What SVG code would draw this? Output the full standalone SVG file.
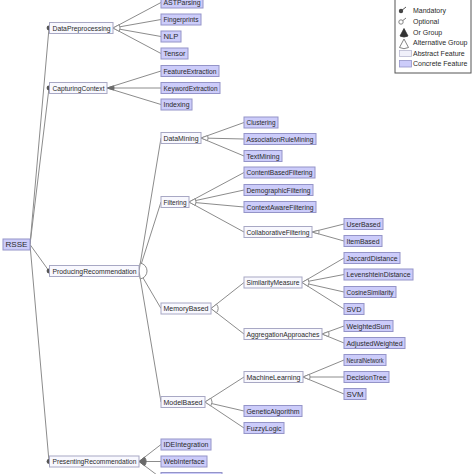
<svg xmlns="http://www.w3.org/2000/svg" width="474" height="474" viewBox="0 0 474 474">
<style>
text{font-family:"Liberation Sans",Arial,sans-serif;font-size:7px;fill:#2a2a2a}
.a{fill:#f8f8fe;stroke:#a8a8c4;stroke-width:1}
.c{fill:#ccccfa;stroke:#9494c8;stroke-width:1}
.ln{stroke:#8c8c8c;stroke-width:1;fill:none}
.alt{fill:#ffffff;stroke:#8c8c8c;stroke-width:1}
.or{fill:#6a6a6a;stroke:#6a6a6a;stroke-width:1}
.dot{fill:#555555}
</style>
<rect width="474" height="474" fill="#ffffff"/>
<g id="connectors">
<line class="ln" x1="30" y1="244.5" x2="49" y2="28"/>
<line class="ln" x1="30" y1="244.5" x2="49" y2="88"/>
<line class="ln" x1="30" y1="244.5" x2="49" y2="271"/>
<line class="ln" x1="30" y1="244.5" x2="49" y2="461.5"/>
<circle class="dot" cx="49" cy="28" r="2.4"/>
<circle class="dot" cx="49" cy="88" r="2.4"/>
<circle class="dot" cx="49" cy="271" r="2.4"/>
<circle class="dot" cx="49" cy="461.5" r="2.4"/>
<line class="ln" x1="113" y1="28" x2="161" y2="2.5"/>
<line class="ln" x1="113" y1="28" x2="161" y2="19.5"/>
<line class="ln" x1="113" y1="28" x2="161" y2="36.5"/>
<line class="ln" x1="113" y1="28" x2="161" y2="53.5"/>
<path class="alt" d="M113,28 L119.2,24.7 A7,7 0 0 1 119.2,31.3 Z"/>
<line class="ln" x1="107" y1="88" x2="161" y2="71"/>
<line class="ln" x1="107" y1="88" x2="161" y2="88"/>
<line class="ln" x1="107" y1="88" x2="161" y2="104.5"/>
<path class="or" d="M107,88 L113.7,85.9 A7,7 0 0 1 113.7,90 Z"/>
<line class="ln" x1="139" y1="271" x2="161" y2="138"/>
<line class="ln" x1="139" y1="271" x2="161" y2="202"/>
<line class="ln" x1="139" y1="271" x2="161" y2="308.5"/>
<line class="ln" x1="139" y1="271" x2="161" y2="402"/>
<path class="alt" d="M139,271 L140.3,263.1 A8,8 0 0 1 140.3,278.9 Z"/>
<line class="ln" x1="201" y1="138" x2="244" y2="122.5"/>
<line class="ln" x1="201" y1="138" x2="244" y2="139"/>
<line class="ln" x1="201" y1="138" x2="244" y2="156"/>
<path class="alt" d="M201,138 L207.6,135.6 A7,7 0 0 1 207.5,140.7 Z"/>
<line class="ln" x1="189" y1="202" x2="244" y2="172.5"/>
<line class="ln" x1="189" y1="202" x2="244" y2="190"/>
<line class="ln" x1="189" y1="202" x2="244" y2="207"/>
<line class="ln" x1="189" y1="202" x2="244" y2="232"/>
<path class="alt" d="M189,202 L195.2,198.7 A7,7 0 0 1 195.1,205.4 Z"/>
<line class="ln" x1="312" y1="232" x2="344" y2="224"/>
<line class="ln" x1="312" y1="232" x2="344" y2="241"/>
<path class="alt" d="M312,232 L318.8,230.3 A7,7 0 0 1 318.7,233.9 Z"/>
<line class="ln" x1="211" y1="308.5" x2="244" y2="282.5"/>
<line class="ln" x1="211" y1="308.5" x2="244" y2="334"/>
<path class="alt" d="M211,308.5 L216.5,304.2 A7,7 0 0 1 216.5,312.8 Z"/>
<line class="ln" x1="302" y1="282.5" x2="344" y2="258"/>
<line class="ln" x1="302" y1="282.5" x2="344" y2="274.5"/>
<line class="ln" x1="302" y1="282.5" x2="344" y2="292"/>
<line class="ln" x1="302" y1="282.5" x2="344" y2="309"/>
<path class="alt" d="M302,282.5 L308,279 A7,7 0 0 1 307.9,286.2 Z"/>
<line class="ln" x1="322" y1="334" x2="344" y2="326"/>
<line class="ln" x1="322" y1="334" x2="344" y2="343"/>
<path class="alt" d="M322,334 L328.6,331.6 A7,7 0 0 1 328.5,336.6 Z"/>
<line class="ln" x1="205" y1="402" x2="244" y2="377"/>
<line class="ln" x1="205" y1="402" x2="244" y2="411"/>
<line class="ln" x1="205" y1="402" x2="244" y2="428"/>
<path class="alt" d="M205,402 L210.9,398.2 A7,7 0 0 1 210.8,405.9 Z"/>
<line class="ln" x1="303" y1="377" x2="344" y2="360"/>
<line class="ln" x1="303" y1="377" x2="344" y2="377"/>
<line class="ln" x1="303" y1="377" x2="344" y2="394"/>
<path class="alt" d="M303,377 L309.5,374.3 A7,7 0 0 1 309.5,379.7 Z"/>
<line class="ln" x1="139" y1="461.5" x2="161" y2="444.5"/>
<line class="ln" x1="139" y1="461.5" x2="161" y2="461.5"/>
<line class="ln" x1="139" y1="461.5" x2="161" y2="478"/>
<path class="or" d="M139,461.5 L144.5,457.2 A7,7 0 0 1 144.6,465.7 Z"/>
</g>
<g id="RSSE"><rect class="c" x="3" y="239" width="27" height="11"/><text x="5.5" y="247" textLength="22" lengthAdjust="spacingAndGlyphs">RSSE</text></g>
<g id="DataPreprocessing"><rect class="a" x="49.5" y="22.5" width="63.5" height="11"/><text x="52.5" y="30.5" textLength="58" lengthAdjust="spacingAndGlyphs">DataPreprocessing</text></g>
<g id="ASTParsing"><rect class="c" x="161" y="-3" width="42" height="11"/><text x="163.5" y="5" textLength="37" lengthAdjust="spacingAndGlyphs">ASTParsing</text></g>
<g id="Fingerprints"><rect class="c" x="161" y="14" width="40" height="11"/><text x="163.5" y="22" textLength="35" lengthAdjust="spacingAndGlyphs">Fingerprints</text></g>
<g id="NLP"><rect class="c" x="161" y="31" width="20" height="11"/><text x="163.5" y="39" textLength="15" lengthAdjust="spacingAndGlyphs">NLP</text></g>
<g id="Tensor"><rect class="c" x="161" y="48" width="27" height="11"/><text x="163.5" y="56" textLength="22" lengthAdjust="spacingAndGlyphs">Tensor</text></g>
<g id="CapturingContext"><rect class="a" x="49.5" y="82.5" width="57.5" height="11"/><text x="52.5" y="90.5" textLength="52" lengthAdjust="spacingAndGlyphs">CapturingContext</text></g>
<g id="FeatureExtraction"><rect class="c" x="161" y="65.5" width="58" height="11"/><text x="163.5" y="73.5" textLength="53" lengthAdjust="spacingAndGlyphs">FeatureExtraction</text></g>
<g id="KeywordExtraction"><rect class="c" x="161" y="82.5" width="59" height="11"/><text x="163.5" y="90.5" textLength="54" lengthAdjust="spacingAndGlyphs">KeywordExtraction</text></g>
<g id="Indexing"><rect class="c" x="161" y="99" width="31" height="11"/><text x="163.5" y="107" textLength="26" lengthAdjust="spacingAndGlyphs">Indexing</text></g>
<g id="ProducingRecommendation"><rect class="a" x="49.5" y="265.5" width="89.5" height="11"/><text x="52.5" y="273.5" textLength="84" lengthAdjust="spacingAndGlyphs">ProducingRecommendation</text></g>
<g id="DataMining"><rect class="a" x="161" y="132.5" width="40" height="11"/><text x="163.5" y="140.5" textLength="35" lengthAdjust="spacingAndGlyphs">DataMining</text></g>
<g id="Clustering"><rect class="c" x="244" y="117" width="34" height="11"/><text x="246.5" y="125" textLength="29" lengthAdjust="spacingAndGlyphs">Clustering</text></g>
<g id="AssociationRuleMining"><rect class="c" x="244" y="133.5" width="72" height="11"/><text x="246.5" y="141.5" textLength="67" lengthAdjust="spacingAndGlyphs">AssociationRuleMining</text></g>
<g id="TextMining"><rect class="c" x="244" y="150.5" width="38" height="11"/><text x="246.5" y="158.5" textLength="33" lengthAdjust="spacingAndGlyphs">TextMining</text></g>
<g id="Filtering"><rect class="a" x="161" y="196.5" width="28" height="11"/><text x="163.5" y="204.5" textLength="23" lengthAdjust="spacingAndGlyphs">Filtering</text></g>
<g id="ContentBasedFiltering"><rect class="c" x="244" y="167" width="71" height="11"/><text x="246.5" y="175" textLength="66" lengthAdjust="spacingAndGlyphs">ContentBasedFiltering</text></g>
<g id="DemographicFiltering"><rect class="c" x="244" y="184.5" width="69" height="11"/><text x="246.5" y="192.5" textLength="64" lengthAdjust="spacingAndGlyphs">DemographicFiltering</text></g>
<g id="ContextAwareFiltering"><rect class="c" x="244" y="201.5" width="72" height="11"/><text x="246.5" y="209.5" textLength="67" lengthAdjust="spacingAndGlyphs">ContextAwareFiltering</text></g>
<g id="CollaborativeFiltering"><rect class="a" x="244" y="226.5" width="68" height="11"/><text x="246.5" y="234.5" textLength="63" lengthAdjust="spacingAndGlyphs">CollaborativeFiltering</text></g>
<g id="UserBased"><rect class="c" x="344" y="218.5" width="39" height="11"/><text x="346.5" y="226.5" textLength="34" lengthAdjust="spacingAndGlyphs">UserBased</text></g>
<g id="ItemBased"><rect class="c" x="344" y="235.5" width="38" height="11"/><text x="346.5" y="243.5" textLength="33" lengthAdjust="spacingAndGlyphs">ItemBased</text></g>
<g id="MemoryBased"><rect class="a" x="161" y="303" width="50" height="11"/><text x="163.5" y="311" textLength="45" lengthAdjust="spacingAndGlyphs">MemoryBased</text></g>
<g id="SimilarityMeasure"><rect class="a" x="244" y="277" width="58" height="11"/><text x="246.5" y="285" textLength="53" lengthAdjust="spacingAndGlyphs">SimilarityMeasure</text></g>
<g id="JaccardDistance"><rect class="c" x="344" y="252.5" width="56" height="11"/><text x="346.5" y="260.5" textLength="51" lengthAdjust="spacingAndGlyphs">JaccardDistance</text></g>
<g id="LevenshteinDistance"><rect class="c" x="344" y="269" width="69" height="11"/><text x="346.5" y="277" textLength="64" lengthAdjust="spacingAndGlyphs">LevenshteinDistance</text></g>
<g id="CosineSimilarity"><rect class="c" x="344" y="286.5" width="52" height="11"/><text x="346.5" y="294.5" textLength="47" lengthAdjust="spacingAndGlyphs">CosineSimilarity</text></g>
<g id="SVD"><rect class="c" x="344" y="303.5" width="20" height="11"/><text x="346.5" y="311.5" textLength="15" lengthAdjust="spacingAndGlyphs">SVD</text></g>
<g id="AggregationApproaches"><rect class="a" x="244" y="328.5" width="78" height="11"/><text x="246.5" y="336.5" textLength="73" lengthAdjust="spacingAndGlyphs">AggregationApproaches</text></g>
<g id="WeightedSum"><rect class="c" x="344" y="320.5" width="49" height="11"/><text x="346.5" y="328.5" textLength="44" lengthAdjust="spacingAndGlyphs">WeightedSum</text></g>
<g id="AdjustedWeighted"><rect class="c" x="344" y="337.5" width="61" height="11"/><text x="346.5" y="345.5" textLength="56" lengthAdjust="spacingAndGlyphs">AdjustedWeighted</text></g>
<g id="ModelBased"><rect class="a" x="161" y="396.5" width="44" height="11"/><text x="163.5" y="404.5" textLength="39" lengthAdjust="spacingAndGlyphs">ModelBased</text></g>
<g id="MachineLearning"><rect class="a" x="244" y="371.5" width="59" height="11"/><text x="246.5" y="379.5" textLength="54" lengthAdjust="spacingAndGlyphs">MachineLearning</text></g>
<g id="NeuralNetwork"><rect class="c" x="344" y="354.5" width="42" height="11"/><text x="346.5" y="362.5" textLength="37" lengthAdjust="spacingAndGlyphs">NeuralNetwork</text></g>
<g id="DecisionTree"><rect class="c" x="344" y="371.5" width="45" height="11"/><text x="346.5" y="379.5" textLength="40" lengthAdjust="spacingAndGlyphs">DecisionTree</text></g>
<g id="SVM"><rect class="c" x="344" y="388.5" width="22" height="11"/><text x="346.5" y="396.5" textLength="17" lengthAdjust="spacingAndGlyphs">SVM</text></g>
<g id="GeneticAlgorithm"><rect class="c" x="244" y="405.5" width="58" height="11"/><text x="246.5" y="413.5" textLength="53" lengthAdjust="spacingAndGlyphs">GeneticAlgorithm</text></g>
<g id="FuzzyLogic"><rect class="c" x="244" y="422.5" width="40" height="11"/><text x="246.5" y="430.5" textLength="35" lengthAdjust="spacingAndGlyphs">FuzzyLogic</text></g>
<g id="PresentingRecommendation"><rect class="a" x="49.5" y="456" width="89.5" height="11"/><text x="52.5" y="464" textLength="84" lengthAdjust="spacingAndGlyphs">PresentingRecommendation</text></g>
<g id="IDEIntegration"><rect class="c" x="161" y="439" width="50" height="11"/><text x="163.5" y="447" textLength="45" lengthAdjust="spacingAndGlyphs">IDEIntegration</text></g>
<g id="WebInterface"><rect class="c" x="161" y="456" width="46" height="11"/><text x="163.5" y="464" textLength="41" lengthAdjust="spacingAndGlyphs">WebInterface</text></g>
<g id="PresentingChild3"><rect class="c" x="161" y="472.5" width="61" height="11"/></g>
<g id="legend">
<rect x="395" y="-1" width="76" height="74" fill="#ffffff" stroke="#555555" stroke-width="1"/>
<line x1="401" y1="11" x2="406" y2="7" stroke="#555" stroke-width="1"/>
<circle cx="401" cy="11" r="2.2" fill="#444"/>
<line x1="401" y1="22" x2="406" y2="18" stroke="#777" stroke-width="1"/>
<circle cx="401" cy="22" r="2.2" fill="#fff" stroke="#777" stroke-width="0.9"/>
<path d="M404,28.5 L400,36 A8.5,8.5 0 0 0 408,36 Z" fill="#333" stroke="#333" stroke-width="0.8"/>
<path d="M404,39 L399.5,47.5 A9.6,9.6 0 0 0 408.5,47.5 Z" fill="#fff" stroke="#666" stroke-width="0.8"/>
<rect x="399.5" y="50.5" width="12" height="6" fill="#f0f0fa" stroke="#b8b8d0" stroke-width="0.8"/>
<rect x="399.5" y="60.5" width="12" height="6.5" fill="#ccccfa" stroke="#9494c8" stroke-width="0.8"/>
<text x="413" y="12.5">Mandatory</text>
<text x="413" y="23.5">Optional</text>
<text x="413" y="34.5">Or Group</text>
<text x="413" y="45">Alternative Group</text>
<text x="413" y="55.5">Abstract Feature</text>
<text x="413" y="66">Concrete Feature</text>
</g>
</svg>
